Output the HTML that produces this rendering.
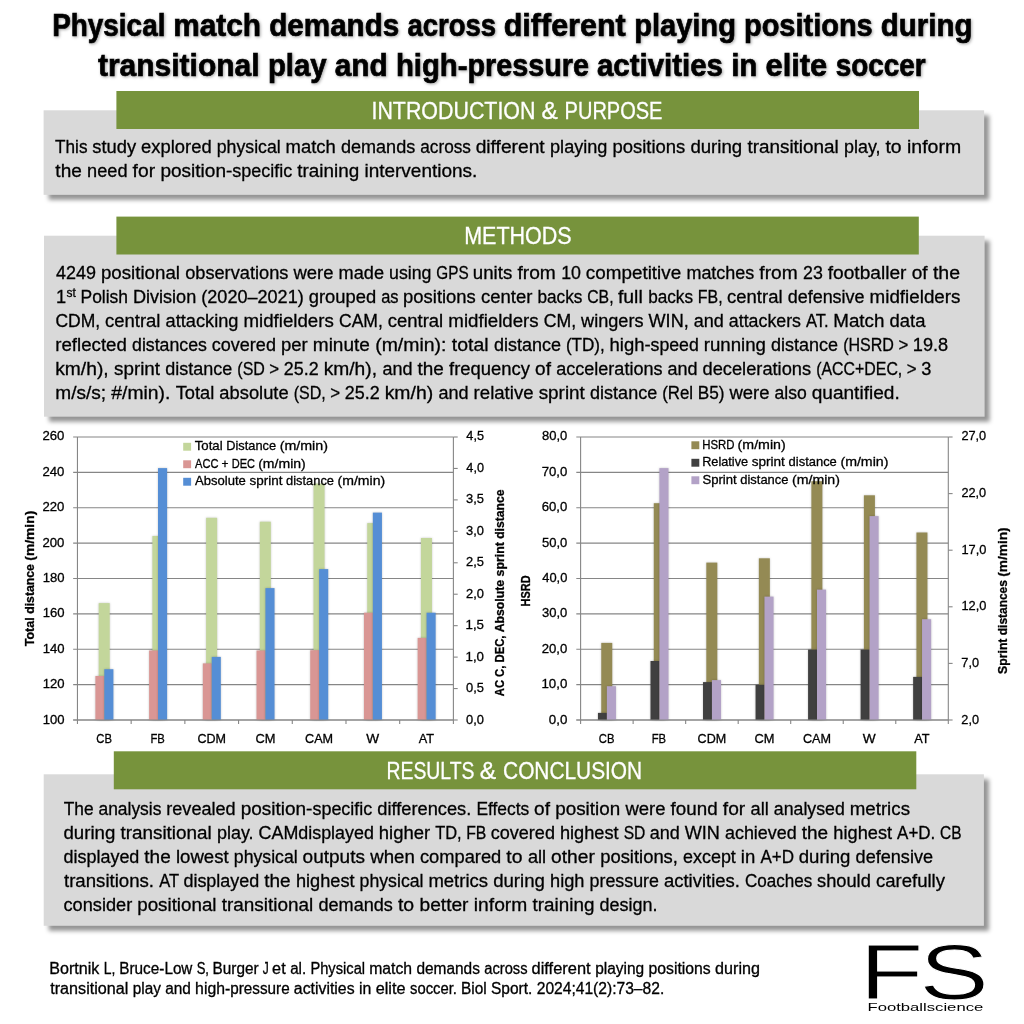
<!DOCTYPE html>
<html lang="en">
<head>
<meta charset="utf-8">
<title>Physical match demands across different playing positions</title>
<style>
html,body{margin:0;padding:0;background:#fff}
#page{position:relative;width:1024px;height:1024px;background:#fff;overflow:hidden;font-family:'Liberation Sans', sans-serif}
.gray{fill:#d9d9d9;filter:drop-shadow(5.6px 5.6px 2.3px rgba(0,0,0,.42))}
.green{fill:#77933c}
svg{position:absolute;left:0;top:0}
svg text{font-family:'Liberation Sans', sans-serif;white-space:pre;stroke:#000;stroke-width:.3px}
.bar{filter:drop-shadow(0 0 1px rgba(0,0,0,.22))}
.ttl{stroke-width:.7px;filter:drop-shadow(1px 1.5px 1.5px rgba(0,0,0,.35))}
</style>
</head>
<body>
<div id="page">
<svg width="1024" height="1024" viewBox="0 0 1024 1024">
<rect class="gray" x="43.6" y="110.3" width="940.55" height="84.55"/>
<rect class="green" x="116.4" y="91" width="802.60" height="38.00"/>
<rect class="gray" x="44.0" y="235.7" width="940.60" height="181.00"/>
<rect class="green" x="116.4" y="216.6" width="802.40" height="37.90"/>
<rect class="gray" x="43.7" y="774.3" width="940.20" height="151.50"/>
<rect class="green" x="113.8" y="751.3" width="802.50" height="38.00"/>
<text y="35.70" font-size="31.6" font-weight="bold" class="ttl"><tspan x="52.19" textLength="120.98" lengthAdjust="spacingAndGlyphs">Physical </tspan><tspan x="173.17" textLength="96.10" lengthAdjust="spacingAndGlyphs">match </tspan><tspan x="269.27" textLength="138.23" lengthAdjust="spacingAndGlyphs">demands </tspan><tspan x="407.50" textLength="96.25" lengthAdjust="spacingAndGlyphs">across </tspan><tspan x="503.75" textLength="130.40" lengthAdjust="spacingAndGlyphs">different </tspan><tspan x="634.15" textLength="109.82" lengthAdjust="spacingAndGlyphs">playing </tspan><tspan x="743.97" textLength="136.79" lengthAdjust="spacingAndGlyphs">positions </tspan><tspan x="880.76" textLength="91.75" lengthAdjust="spacingAndGlyphs">during</tspan></text>
<text y="76.00" font-size="31.6" font-weight="bold" class="ttl"><tspan x="97.95" textLength="169.97" lengthAdjust="spacingAndGlyphs">transitional </tspan><tspan x="267.92" textLength="66.81" lengthAdjust="spacingAndGlyphs">play </tspan><tspan x="334.73" textLength="61.19" lengthAdjust="spacingAndGlyphs">and </tspan><tspan x="395.92" textLength="71.64" lengthAdjust="spacingAndGlyphs">high-</tspan><tspan x="467.56" textLength="129.44" lengthAdjust="spacingAndGlyphs">pressure </tspan><tspan x="597.00" textLength="134.14" lengthAdjust="spacingAndGlyphs">activities </tspan><tspan x="731.14" textLength="34.41" lengthAdjust="spacingAndGlyphs">in </tspan><tspan x="765.55" textLength="70.26" lengthAdjust="spacingAndGlyphs">elite </tspan><tspan x="835.81" textLength="89.84" lengthAdjust="spacingAndGlyphs">soccer</tspan></text>
<text y="118.50" font-size="23" style="fill:#fff;stroke:#fff"><tspan x="371.48" textLength="169.93" lengthAdjust="spacingAndGlyphs">INTRODUCTION </tspan><tspan x="541.41" textLength="23.21" lengthAdjust="spacingAndGlyphs">&amp; </tspan><tspan x="564.62" textLength="97.84" lengthAdjust="spacingAndGlyphs">PURPOSE</tspan></text>
<text x="464.20" y="244.00" font-size="23" style="fill:#fff;stroke:#fff" textLength="107.47" lengthAdjust="spacingAndGlyphs">METHODS</text>
<text y="778.80" font-size="23" style="fill:#fff;stroke:#fff"><tspan x="386.53" textLength="93.27" lengthAdjust="spacingAndGlyphs">RESULTS </tspan><tspan x="479.80" textLength="23.29" lengthAdjust="spacingAndGlyphs">&amp; </tspan><tspan x="503.08" textLength="139.09" lengthAdjust="spacingAndGlyphs">CONCLUSION</tspan></text>
<text y="153.10" font-size="18.3"><tspan x="55.10" textLength="37.17" lengthAdjust="spacingAndGlyphs">This </tspan><tspan x="92.27" textLength="48.87" lengthAdjust="spacingAndGlyphs">study </tspan><tspan x="141.14" textLength="75.62" lengthAdjust="spacingAndGlyphs">explored </tspan><tspan x="216.76" textLength="68.88" lengthAdjust="spacingAndGlyphs">physical </tspan><tspan x="285.64" textLength="55.29" lengthAdjust="spacingAndGlyphs">match </tspan><tspan x="340.93" textLength="79.35" lengthAdjust="spacingAndGlyphs">demands </tspan><tspan x="420.28" textLength="55.38" lengthAdjust="spacingAndGlyphs">across </tspan><tspan x="475.66" textLength="74.40" lengthAdjust="spacingAndGlyphs">different </tspan><tspan x="550.05" textLength="62.37" lengthAdjust="spacingAndGlyphs">playing </tspan><tspan x="612.42" textLength="77.98" lengthAdjust="spacingAndGlyphs">positions </tspan><tspan x="690.40" textLength="57.00" lengthAdjust="spacingAndGlyphs">during </tspan><tspan x="747.40" textLength="96.61" lengthAdjust="spacingAndGlyphs">transitional </tspan><tspan x="844.02" textLength="41.43" lengthAdjust="spacingAndGlyphs">play, </tspan><tspan x="885.45" textLength="21.56" lengthAdjust="spacingAndGlyphs">to </tspan><tspan x="907.01" textLength="54.14" lengthAdjust="spacingAndGlyphs">inform</tspan></text>
<text y="177.25" font-size="18.3"><tspan x="55.35" textLength="31.74" lengthAdjust="spacingAndGlyphs">the </tspan><tspan x="87.09" textLength="45.53" lengthAdjust="spacingAndGlyphs">need </tspan><tspan x="132.62" textLength="27.78" lengthAdjust="spacingAndGlyphs">for </tspan><tspan x="160.40" textLength="71.93" lengthAdjust="spacingAndGlyphs">position-</tspan><tspan x="232.33" textLength="65.02" lengthAdjust="spacingAndGlyphs">specific </tspan><tspan x="297.35" textLength="67.10" lengthAdjust="spacingAndGlyphs">training </tspan><tspan x="364.45" textLength="112.91" lengthAdjust="spacingAndGlyphs">interventions.</tspan></text>
<text y="278.60" font-size="18.3"><tspan x="56.00" textLength="44.97" lengthAdjust="spacingAndGlyphs">4249 </tspan><tspan x="100.97" textLength="84.17" lengthAdjust="spacingAndGlyphs">positional </tspan><tspan x="185.14" textLength="108.32" lengthAdjust="spacingAndGlyphs">observations </tspan><tspan x="293.46" textLength="45.15" lengthAdjust="spacingAndGlyphs">were </tspan><tspan x="338.61" textLength="50.43" lengthAdjust="spacingAndGlyphs">made </tspan><tspan x="389.04" textLength="47.26" lengthAdjust="spacingAndGlyphs">using </tspan><tspan x="436.30" textLength="36.58" lengthAdjust="spacingAndGlyphs">GPS </tspan><tspan x="472.88" textLength="44.55" lengthAdjust="spacingAndGlyphs">units </tspan><tspan x="517.43" textLength="43.70" lengthAdjust="spacingAndGlyphs">from </tspan><tspan x="561.13" textLength="24.74" lengthAdjust="spacingAndGlyphs">10 </tspan><tspan x="585.87" textLength="100.54" lengthAdjust="spacingAndGlyphs">competitive </tspan><tspan x="686.41" textLength="72.92" lengthAdjust="spacingAndGlyphs">matches </tspan><tspan x="759.33" textLength="43.70" lengthAdjust="spacingAndGlyphs">from </tspan><tspan x="803.03" textLength="24.74" lengthAdjust="spacingAndGlyphs">23 </tspan><tspan x="827.77" textLength="84.00" lengthAdjust="spacingAndGlyphs">footballer </tspan><tspan x="911.78" textLength="21.13" lengthAdjust="spacingAndGlyphs">of </tspan><tspan x="932.90" textLength="27.10" lengthAdjust="spacingAndGlyphs">the</tspan></text>
<text x="56.00" y="302.60" font-size="18.3" textLength="10.14" lengthAdjust="spacingAndGlyphs">1</text>
<text x="66.44" y="296.85" font-size="12.2" textLength="9.32" lengthAdjust="spacingAndGlyphs">st</text>
<text y="302.60" font-size="18.3"><tspan x="80.50" textLength="52.40" lengthAdjust="spacingAndGlyphs">Polish </tspan><tspan x="132.90" textLength="68.37" lengthAdjust="spacingAndGlyphs">Division </tspan><tspan x="201.27" textLength="107.49" lengthAdjust="spacingAndGlyphs">(2020–2021) </tspan><tspan x="308.76" textLength="72.46" lengthAdjust="spacingAndGlyphs">grouped </tspan><tspan x="381.22" textLength="21.88" lengthAdjust="spacingAndGlyphs">as </tspan><tspan x="403.10" textLength="77.85" lengthAdjust="spacingAndGlyphs">positions </tspan><tspan x="480.95" textLength="56.55" lengthAdjust="spacingAndGlyphs">center </tspan><tspan x="537.50" textLength="49.69" lengthAdjust="spacingAndGlyphs">backs </tspan><tspan x="587.19" textLength="30.72" lengthAdjust="spacingAndGlyphs">CB, </tspan><tspan x="617.91" textLength="30.25" lengthAdjust="spacingAndGlyphs">full </tspan><tspan x="648.16" textLength="49.69" lengthAdjust="spacingAndGlyphs">backs </tspan><tspan x="697.86" textLength="29.25" lengthAdjust="spacingAndGlyphs">FB, </tspan><tspan x="727.10" textLength="60.56" lengthAdjust="spacingAndGlyphs">central </tspan><tspan x="787.67" textLength="81.91" lengthAdjust="spacingAndGlyphs">defensive </tspan><tspan x="869.57" textLength="90.93" lengthAdjust="spacingAndGlyphs">midfielders</tspan></text>
<text y="326.60" font-size="18.3"><tspan x="55.50" textLength="49.51" lengthAdjust="spacingAndGlyphs">CDM, </tspan><tspan x="105.01" textLength="60.60" lengthAdjust="spacingAndGlyphs">central </tspan><tspan x="165.61" textLength="77.89" lengthAdjust="spacingAndGlyphs">attacking </tspan><tspan x="243.49" textLength="95.50" lengthAdjust="spacingAndGlyphs">midfielders </tspan><tspan x="338.99" textLength="48.78" lengthAdjust="spacingAndGlyphs">CAM, </tspan><tspan x="387.77" textLength="60.60" lengthAdjust="spacingAndGlyphs">central </tspan><tspan x="448.37" textLength="95.50" lengthAdjust="spacingAndGlyphs">midfielders </tspan><tspan x="543.87" textLength="37.22" lengthAdjust="spacingAndGlyphs">CM, </tspan><tspan x="581.09" textLength="67.47" lengthAdjust="spacingAndGlyphs">wingers </tspan><tspan x="648.56" textLength="45.19" lengthAdjust="spacingAndGlyphs">WIN, </tspan><tspan x="693.75" textLength="35.07" lengthAdjust="spacingAndGlyphs">and </tspan><tspan x="728.82" textLength="77.14" lengthAdjust="spacingAndGlyphs">attackers </tspan><tspan x="805.95" textLength="27.30" lengthAdjust="spacingAndGlyphs">AT. </tspan><tspan x="833.26" textLength="56.36" lengthAdjust="spacingAndGlyphs">Match </tspan><tspan x="889.61" textLength="35.89" lengthAdjust="spacingAndGlyphs">data</tspan></text>
<text y="350.60" font-size="18.3"><tspan x="55.25" textLength="76.78" lengthAdjust="spacingAndGlyphs">reflected </tspan><tspan x="132.02" textLength="79.82" lengthAdjust="spacingAndGlyphs">distances </tspan><tspan x="211.84" textLength="69.08" lengthAdjust="spacingAndGlyphs">covered </tspan><tspan x="280.92" textLength="31.88" lengthAdjust="spacingAndGlyphs">per </tspan><tspan x="312.81" textLength="62.40" lengthAdjust="spacingAndGlyphs">minute </tspan><tspan x="375.21" textLength="76.61" lengthAdjust="spacingAndGlyphs">(m/min): </tspan><tspan x="451.82" textLength="42.11" lengthAdjust="spacingAndGlyphs">total </tspan><tspan x="493.93" textLength="72.01" lengthAdjust="spacingAndGlyphs">distance </tspan><tspan x="565.94" textLength="43.60" lengthAdjust="spacingAndGlyphs">(TD), </tspan><tspan x="609.54" textLength="41.05" lengthAdjust="spacingAndGlyphs">high-</tspan><tspan x="650.59" textLength="53.15" lengthAdjust="spacingAndGlyphs">speed </tspan><tspan x="703.74" textLength="67.38" lengthAdjust="spacingAndGlyphs">running </tspan><tspan x="771.12" textLength="72.01" lengthAdjust="spacingAndGlyphs">distance </tspan><tspan x="843.14" textLength="55.28" lengthAdjust="spacingAndGlyphs">(HSRD </tspan><tspan x="898.42" textLength="14.45" lengthAdjust="spacingAndGlyphs">&gt; </tspan><tspan x="912.87" textLength="35.38" lengthAdjust="spacingAndGlyphs">19.8</tspan></text>
<text y="374.60" font-size="18.3"><tspan x="55.25" textLength="58.75" lengthAdjust="spacingAndGlyphs">km/h), </tspan><tspan x="113.99" textLength="51.32" lengthAdjust="spacingAndGlyphs">sprint </tspan><tspan x="165.31" textLength="72.01" lengthAdjust="spacingAndGlyphs">distance </tspan><tspan x="237.32" textLength="32.01" lengthAdjust="spacingAndGlyphs">(SD </tspan><tspan x="269.33" textLength="14.45" lengthAdjust="spacingAndGlyphs">&gt; </tspan><tspan x="283.78" textLength="39.89" lengthAdjust="spacingAndGlyphs">25.2 </tspan><tspan x="323.67" textLength="58.75" lengthAdjust="spacingAndGlyphs">km/h), </tspan><tspan x="382.41" textLength="35.04" lengthAdjust="spacingAndGlyphs">and </tspan><tspan x="417.45" textLength="31.61" lengthAdjust="spacingAndGlyphs">the </tspan><tspan x="449.06" textLength="86.08" lengthAdjust="spacingAndGlyphs">frequency </tspan><tspan x="535.14" textLength="21.12" lengthAdjust="spacingAndGlyphs">of </tspan><tspan x="556.26" textLength="111.23" lengthAdjust="spacingAndGlyphs">accelerations </tspan><tspan x="667.50" textLength="35.04" lengthAdjust="spacingAndGlyphs">and </tspan><tspan x="702.54" textLength="113.65" lengthAdjust="spacingAndGlyphs">decelerations </tspan><tspan x="816.19" textLength="90.50" lengthAdjust="spacingAndGlyphs">(ACC+DEC, </tspan><tspan x="906.69" textLength="14.45" lengthAdjust="spacingAndGlyphs">&gt; </tspan><tspan x="921.14" textLength="10.11" lengthAdjust="spacingAndGlyphs">3</tspan></text>
<text y="398.60" font-size="18.3"><tspan x="55.25" textLength="56.15" lengthAdjust="spacingAndGlyphs">m/s/s; </tspan><tspan x="111.39" textLength="64.35" lengthAdjust="spacingAndGlyphs">#/min). </tspan><tspan x="175.74" textLength="43.63" lengthAdjust="spacingAndGlyphs">Total </tspan><tspan x="219.38" textLength="74.37" lengthAdjust="spacingAndGlyphs">absolute </tspan><tspan x="293.74" textLength="36.51" lengthAdjust="spacingAndGlyphs">(SD, </tspan><tspan x="330.25" textLength="14.47" lengthAdjust="spacingAndGlyphs">&gt; </tspan><tspan x="344.73" textLength="39.95" lengthAdjust="spacingAndGlyphs">25.2 </tspan><tspan x="384.68" textLength="53.85" lengthAdjust="spacingAndGlyphs">km/h) </tspan><tspan x="438.53" textLength="35.09" lengthAdjust="spacingAndGlyphs">and </tspan><tspan x="473.63" textLength="65.06" lengthAdjust="spacingAndGlyphs">relative </tspan><tspan x="538.68" textLength="51.40" lengthAdjust="spacingAndGlyphs">sprint </tspan><tspan x="590.08" textLength="72.12" lengthAdjust="spacingAndGlyphs">distance </tspan><tspan x="662.21" textLength="35.61" lengthAdjust="spacingAndGlyphs">(Rel </tspan><tspan x="697.82" textLength="31.58" lengthAdjust="spacingAndGlyphs">B5) </tspan><tspan x="729.40" textLength="45.22" lengthAdjust="spacingAndGlyphs">were </tspan><tspan x="774.62" textLength="37.04" lengthAdjust="spacingAndGlyphs">also </tspan><tspan x="811.66" textLength="88.10" lengthAdjust="spacingAndGlyphs">quantified.</tspan></text>
<text y="814.90" font-size="18.3"><tspan x="63.75" textLength="34.70" lengthAdjust="spacingAndGlyphs">The </tspan><tspan x="98.45" textLength="67.83" lengthAdjust="spacingAndGlyphs">analysis </tspan><tspan x="166.28" textLength="74.44" lengthAdjust="spacingAndGlyphs">revealed </tspan><tspan x="240.72" textLength="71.73" lengthAdjust="spacingAndGlyphs">position-</tspan><tspan x="312.45" textLength="64.84" lengthAdjust="spacingAndGlyphs">specific </tspan><tspan x="377.29" textLength="99.11" lengthAdjust="spacingAndGlyphs">differences. </tspan><tspan x="476.40" textLength="57.72" lengthAdjust="spacingAndGlyphs">Effects </tspan><tspan x="534.12" textLength="21.16" lengthAdjust="spacingAndGlyphs">of </tspan><tspan x="555.27" textLength="70.13" lengthAdjust="spacingAndGlyphs">position </tspan><tspan x="625.40" textLength="45.22" lengthAdjust="spacingAndGlyphs">were </tspan><tspan x="670.62" textLength="52.23" lengthAdjust="spacingAndGlyphs">found </tspan><tspan x="722.85" textLength="27.70" lengthAdjust="spacingAndGlyphs">for </tspan><tspan x="750.56" textLength="23.26" lengthAdjust="spacingAndGlyphs">all </tspan><tspan x="773.82" textLength="75.87" lengthAdjust="spacingAndGlyphs">analysed </tspan><tspan x="849.69" textLength="60.31" lengthAdjust="spacingAndGlyphs">metrics</tspan></text>
<text y="838.90" font-size="18.3"><tspan x="63.50" textLength="56.97" lengthAdjust="spacingAndGlyphs">during </tspan><tspan x="120.46" textLength="96.56" lengthAdjust="spacingAndGlyphs">transitional </tspan><tspan x="217.02" textLength="41.57" lengthAdjust="spacingAndGlyphs">play. </tspan><tspan x="258.59" textLength="120.23" lengthAdjust="spacingAndGlyphs">CAMdisplayed </tspan><tspan x="378.82" textLength="56.41" lengthAdjust="spacingAndGlyphs">higher </tspan><tspan x="435.23" textLength="30.99" lengthAdjust="spacingAndGlyphs">TD, </tspan><tspan x="466.23" textLength="24.57" lengthAdjust="spacingAndGlyphs">FB </tspan><tspan x="490.79" textLength="69.16" lengthAdjust="spacingAndGlyphs">covered </tspan><tspan x="559.95" textLength="63.73" lengthAdjust="spacingAndGlyphs">highest </tspan><tspan x="623.68" textLength="25.99" lengthAdjust="spacingAndGlyphs">SD </tspan><tspan x="649.67" textLength="35.08" lengthAdjust="spacingAndGlyphs">and </tspan><tspan x="684.75" textLength="40.22" lengthAdjust="spacingAndGlyphs">WIN </tspan><tspan x="724.98" textLength="76.73" lengthAdjust="spacingAndGlyphs">achieved </tspan><tspan x="801.71" textLength="31.65" lengthAdjust="spacingAndGlyphs">the </tspan><tspan x="833.36" textLength="63.73" lengthAdjust="spacingAndGlyphs">highest </tspan><tspan x="897.08" textLength="42.90" lengthAdjust="spacingAndGlyphs">A+D. </tspan><tspan x="939.98" textLength="21.52" lengthAdjust="spacingAndGlyphs">CB</tspan></text>
<text y="862.90" font-size="18.3"><tspan x="63.50" textLength="80.85" lengthAdjust="spacingAndGlyphs">displayed </tspan><tspan x="144.35" textLength="31.62" lengthAdjust="spacingAndGlyphs">the </tspan><tspan x="175.97" textLength="57.83" lengthAdjust="spacingAndGlyphs">lowest </tspan><tspan x="233.80" textLength="68.77" lengthAdjust="spacingAndGlyphs">physical </tspan><tspan x="302.57" textLength="67.68" lengthAdjust="spacingAndGlyphs">outputs </tspan><tspan x="370.25" textLength="49.69" lengthAdjust="spacingAndGlyphs">when </tspan><tspan x="419.93" textLength="86.42" lengthAdjust="spacingAndGlyphs">compared </tspan><tspan x="506.35" textLength="21.53" lengthAdjust="spacingAndGlyphs">to </tspan><tspan x="527.88" textLength="23.23" lengthAdjust="spacingAndGlyphs">all </tspan><tspan x="551.11" textLength="49.10" lengthAdjust="spacingAndGlyphs">other </tspan><tspan x="600.21" textLength="82.83" lengthAdjust="spacingAndGlyphs">positions, </tspan><tspan x="683.04" textLength="57.79" lengthAdjust="spacingAndGlyphs">except </tspan><tspan x="740.84" textLength="19.58" lengthAdjust="spacingAndGlyphs">in </tspan><tspan x="760.42" textLength="38.28" lengthAdjust="spacingAndGlyphs">A+D </tspan><tspan x="798.70" textLength="56.91" lengthAdjust="spacingAndGlyphs">during </tspan><tspan x="855.61" textLength="77.39" lengthAdjust="spacingAndGlyphs">defensive</tspan></text>
<text y="886.90" font-size="18.3"><tspan x="64.00" textLength="95.19" lengthAdjust="spacingAndGlyphs">transitions. </tspan><tspan x="159.19" textLength="24.24" lengthAdjust="spacingAndGlyphs">AT </tspan><tspan x="183.42" textLength="80.88" lengthAdjust="spacingAndGlyphs">displayed </tspan><tspan x="264.30" textLength="31.63" lengthAdjust="spacingAndGlyphs">the </tspan><tspan x="295.93" textLength="63.68" lengthAdjust="spacingAndGlyphs">highest </tspan><tspan x="359.61" textLength="68.79" lengthAdjust="spacingAndGlyphs">physical </tspan><tspan x="428.40" textLength="64.77" lengthAdjust="spacingAndGlyphs">metrics </tspan><tspan x="493.17" textLength="56.92" lengthAdjust="spacingAndGlyphs">during </tspan><tspan x="550.09" textLength="39.47" lengthAdjust="spacingAndGlyphs">high </tspan><tspan x="589.56" textLength="74.37" lengthAdjust="spacingAndGlyphs">pressure </tspan><tspan x="663.94" textLength="81.15" lengthAdjust="spacingAndGlyphs">activities. </tspan><tspan x="745.09" textLength="71.93" lengthAdjust="spacingAndGlyphs">Coaches </tspan><tspan x="817.02" textLength="58.90" lengthAdjust="spacingAndGlyphs">should </tspan><tspan x="875.92" textLength="69.08" lengthAdjust="spacingAndGlyphs">carefully</tspan></text>
<text y="910.90" font-size="18.3"><tspan x="63.50" textLength="73.78" lengthAdjust="spacingAndGlyphs">consider </tspan><tspan x="137.28" textLength="84.44" lengthAdjust="spacingAndGlyphs">positional </tspan><tspan x="221.72" textLength="96.75" lengthAdjust="spacingAndGlyphs">transitional </tspan><tspan x="318.46" textLength="79.45" lengthAdjust="spacingAndGlyphs">demands </tspan><tspan x="397.92" textLength="21.59" lengthAdjust="spacingAndGlyphs">to </tspan><tspan x="419.51" textLength="54.32" lengthAdjust="spacingAndGlyphs">better </tspan><tspan x="473.83" textLength="58.74" lengthAdjust="spacingAndGlyphs">inform </tspan><tspan x="532.57" textLength="67.04" lengthAdjust="spacingAndGlyphs">training </tspan><tspan x="599.61" textLength="57.90" lengthAdjust="spacingAndGlyphs">design.</tspan></text>
<text y="974.00" font-size="15.6"><tspan x="49.25" textLength="54.52" lengthAdjust="spacingAndGlyphs">Bortnik </tspan><tspan x="103.77" textLength="15.45" lengthAdjust="spacingAndGlyphs">L, </tspan><tspan x="119.22" textLength="45.19" lengthAdjust="spacingAndGlyphs">Bruce-</tspan><tspan x="164.42" textLength="32.21" lengthAdjust="spacingAndGlyphs">Low </tspan><tspan x="196.63" textLength="15.98" lengthAdjust="spacingAndGlyphs">S, </tspan><tspan x="212.61" textLength="50.23" lengthAdjust="spacingAndGlyphs">Burger </tspan><tspan x="262.83" textLength="9.31" lengthAdjust="spacingAndGlyphs">J </tspan><tspan x="272.14" textLength="18.00" lengthAdjust="spacingAndGlyphs">et </tspan><tspan x="290.14" textLength="20.29" lengthAdjust="spacingAndGlyphs">al. </tspan><tspan x="310.43" textLength="58.73" lengthAdjust="spacingAndGlyphs">Physical </tspan><tspan x="369.16" textLength="47.26" lengthAdjust="spacingAndGlyphs">match </tspan><tspan x="416.42" textLength="67.82" lengthAdjust="spacingAndGlyphs">demands </tspan><tspan x="484.24" textLength="47.34" lengthAdjust="spacingAndGlyphs">across </tspan><tspan x="531.58" textLength="63.59" lengthAdjust="spacingAndGlyphs">different </tspan><tspan x="595.17" textLength="53.31" lengthAdjust="spacingAndGlyphs">playing </tspan><tspan x="648.49" textLength="66.66" lengthAdjust="spacingAndGlyphs">positions </tspan><tspan x="715.14" textLength="44.86" lengthAdjust="spacingAndGlyphs">during</tspan></text>
<text y="994.00" font-size="15.6"><tspan x="50.25" textLength="82.54" lengthAdjust="spacingAndGlyphs">transitional </tspan><tspan x="132.79" textLength="32.35" lengthAdjust="spacingAndGlyphs">play </tspan><tspan x="165.14" textLength="29.99" lengthAdjust="spacingAndGlyphs">and </tspan><tspan x="195.13" textLength="35.14" lengthAdjust="spacingAndGlyphs">high-</tspan><tspan x="230.27" textLength="63.63" lengthAdjust="spacingAndGlyphs">pressure </tspan><tspan x="293.89" textLength="65.11" lengthAdjust="spacingAndGlyphs">activities </tspan><tspan x="359.00" textLength="16.75" lengthAdjust="spacingAndGlyphs">in </tspan><tspan x="375.76" textLength="34.24" lengthAdjust="spacingAndGlyphs">elite </tspan><tspan x="409.99" textLength="51.04" lengthAdjust="spacingAndGlyphs">soccer. </tspan><tspan x="461.03" textLength="30.00" lengthAdjust="spacingAndGlyphs">Biol </tspan><tspan x="491.03" textLength="45.68" lengthAdjust="spacingAndGlyphs">Sport. </tspan><tspan x="536.71" textLength="127.54" lengthAdjust="spacingAndGlyphs">2024;41(2):73–82.</tspan></text>
<text transform="scale(1.346,1)" x="638.58 682.99" y="999.1" font-size="77.6" style="stroke:#fff;stroke-width:1px">FS</text>
<text x="867.48" y="1010.50" font-size="11.3" textLength="115.79" lengthAdjust="spacingAndGlyphs" style="stroke:none">Footballscience</text>
<line x1="73.15" y1="437.00" x2="453.40" y2="437.00" stroke="#868686" stroke-width="1.1"/>
<line x1="73.15" y1="472.38" x2="453.40" y2="472.38" stroke="#868686" stroke-width="1.1"/>
<line x1="73.15" y1="507.75" x2="453.40" y2="507.75" stroke="#868686" stroke-width="1.1"/>
<line x1="73.15" y1="543.12" x2="453.40" y2="543.12" stroke="#868686" stroke-width="1.1"/>
<line x1="73.15" y1="578.50" x2="453.40" y2="578.50" stroke="#868686" stroke-width="1.1"/>
<line x1="73.15" y1="613.88" x2="453.40" y2="613.88" stroke="#868686" stroke-width="1.1"/>
<line x1="73.15" y1="649.25" x2="453.40" y2="649.25" stroke="#868686" stroke-width="1.1"/>
<line x1="73.15" y1="684.62" x2="453.40" y2="684.62" stroke="#868686" stroke-width="1.1"/>
<line x1="73.15" y1="720.00" x2="453.40" y2="720.00" stroke="#868686" stroke-width="1.1"/>
<line x1="77.45" y1="437.00" x2="77.45" y2="724.00" stroke="#868686" stroke-width="1.1"/>
<line x1="453.40" y1="437.00" x2="453.40" y2="724.00" stroke="#868686" stroke-width="1.1"/>
<line x1="453.40" y1="437.00" x2="457.70" y2="437.00" stroke="#868686" stroke-width="1.1"/>
<line x1="453.40" y1="468.44" x2="457.70" y2="468.44" stroke="#868686" stroke-width="1.1"/>
<line x1="453.40" y1="499.89" x2="457.70" y2="499.89" stroke="#868686" stroke-width="1.1"/>
<line x1="453.40" y1="531.33" x2="457.70" y2="531.33" stroke="#868686" stroke-width="1.1"/>
<line x1="453.40" y1="562.78" x2="457.70" y2="562.78" stroke="#868686" stroke-width="1.1"/>
<line x1="453.40" y1="594.22" x2="457.70" y2="594.22" stroke="#868686" stroke-width="1.1"/>
<line x1="453.40" y1="625.67" x2="457.70" y2="625.67" stroke="#868686" stroke-width="1.1"/>
<line x1="453.40" y1="657.11" x2="457.70" y2="657.11" stroke="#868686" stroke-width="1.1"/>
<line x1="453.40" y1="688.56" x2="457.70" y2="688.56" stroke="#868686" stroke-width="1.1"/>
<line x1="453.40" y1="720.00" x2="457.70" y2="720.00" stroke="#868686" stroke-width="1.1"/>
<line x1="131.16" y1="720.00" x2="131.16" y2="724.00" stroke="#868686" stroke-width="1.1"/>
<line x1="184.86" y1="720.00" x2="184.86" y2="724.00" stroke="#868686" stroke-width="1.1"/>
<line x1="238.57" y1="720.00" x2="238.57" y2="724.00" stroke="#868686" stroke-width="1.1"/>
<line x1="292.28" y1="720.00" x2="292.28" y2="724.00" stroke="#868686" stroke-width="1.1"/>
<line x1="345.99" y1="720.00" x2="345.99" y2="724.00" stroke="#868686" stroke-width="1.1"/>
<line x1="399.69" y1="720.00" x2="399.69" y2="724.00" stroke="#868686" stroke-width="1.1"/>
<rect x="98.70" y="603.10" width="11" height="116.90" fill="#c3d69b" class="bar"/>
<rect x="95.40" y="676.00" width="8.9" height="44.00" fill="#d99694" class="bar"/>
<rect x="104.30" y="669.20" width="9.1" height="50.80" fill="#558ed5" class="bar"/>
<rect x="152.41" y="536.00" width="11" height="184.00" fill="#c3d69b" class="bar"/>
<rect x="149.11" y="650.50" width="8.9" height="69.50" fill="#d99694" class="bar"/>
<rect x="158.01" y="468.10" width="9.1" height="251.90" fill="#558ed5" class="bar"/>
<rect x="206.12" y="517.80" width="11" height="202.20" fill="#c3d69b" class="bar"/>
<rect x="202.82" y="663.40" width="8.9" height="56.60" fill="#d99694" class="bar"/>
<rect x="211.72" y="656.90" width="9.1" height="63.10" fill="#558ed5" class="bar"/>
<rect x="259.82" y="521.70" width="11" height="198.30" fill="#c3d69b" class="bar"/>
<rect x="256.53" y="650.50" width="8.9" height="69.50" fill="#d99694" class="bar"/>
<rect x="265.43" y="588.10" width="9.1" height="131.90" fill="#558ed5" class="bar"/>
<rect x="313.53" y="483.60" width="11" height="236.40" fill="#c3d69b" class="bar"/>
<rect x="310.23" y="650.20" width="8.9" height="69.80" fill="#d99694" class="bar"/>
<rect x="319.13" y="569.10" width="9.1" height="150.90" fill="#558ed5" class="bar"/>
<rect x="367.24" y="523.10" width="11" height="196.90" fill="#c3d69b" class="bar"/>
<rect x="363.94" y="612.70" width="8.9" height="107.30" fill="#d99694" class="bar"/>
<rect x="372.84" y="512.60" width="9.1" height="207.40" fill="#558ed5" class="bar"/>
<rect x="420.95" y="538.00" width="11" height="182.00" fill="#c3d69b" class="bar"/>
<rect x="417.65" y="637.90" width="8.9" height="82.10" fill="#d99694" class="bar"/>
<rect x="426.55" y="612.70" width="9.1" height="107.30" fill="#558ed5" class="bar"/>
<line x1="73.15" y1="720.00" x2="453.40" y2="720.00" stroke="#868686" stroke-width="1.1"/>
<text x="42.40" y="440.30" font-size="13.1" textLength="21.97" lengthAdjust="spacingAndGlyphs">260</text>
<text x="42.40" y="475.74" font-size="13.1" textLength="21.97" lengthAdjust="spacingAndGlyphs">240</text>
<text x="42.40" y="511.18" font-size="13.1" textLength="21.97" lengthAdjust="spacingAndGlyphs">220</text>
<text x="42.40" y="546.61" font-size="13.1" textLength="21.97" lengthAdjust="spacingAndGlyphs">200</text>
<text x="42.71" y="582.05" font-size="13.1" textLength="21.84" lengthAdjust="spacingAndGlyphs">180</text>
<text x="42.71" y="617.49" font-size="13.1" textLength="21.84" lengthAdjust="spacingAndGlyphs">160</text>
<text x="42.71" y="652.92" font-size="13.1" textLength="21.84" lengthAdjust="spacingAndGlyphs">140</text>
<text x="42.71" y="688.36" font-size="13.1" textLength="21.84" lengthAdjust="spacingAndGlyphs">120</text>
<text x="42.71" y="723.80" font-size="13.1" textLength="21.84" lengthAdjust="spacingAndGlyphs">100</text>
<text x="466.34" y="440.30" font-size="13.1" textLength="17.64" lengthAdjust="spacingAndGlyphs">4,5</text>
<text x="466.34" y="471.80" font-size="13.1" textLength="17.64" lengthAdjust="spacingAndGlyphs">4,0</text>
<text x="466.07" y="503.30" font-size="13.1" textLength="17.92" lengthAdjust="spacingAndGlyphs">3,5</text>
<text x="466.07" y="534.80" font-size="13.1" textLength="17.92" lengthAdjust="spacingAndGlyphs">3,0</text>
<text x="466.07" y="566.30" font-size="13.1" textLength="17.92" lengthAdjust="spacingAndGlyphs">2,5</text>
<text x="466.07" y="597.80" font-size="13.1" textLength="17.92" lengthAdjust="spacingAndGlyphs">2,0</text>
<text x="465.50" y="629.30" font-size="13.1" textLength="18.51" lengthAdjust="spacingAndGlyphs">1,5</text>
<text x="465.50" y="660.80" font-size="13.1" textLength="18.51" lengthAdjust="spacingAndGlyphs">1,0</text>
<text x="466.07" y="692.30" font-size="13.1" textLength="17.92" lengthAdjust="spacingAndGlyphs">0,5</text>
<text x="466.07" y="723.80" font-size="13.1" textLength="17.92" lengthAdjust="spacingAndGlyphs">0,0</text>
<text x="96.26" y="742.80" font-size="13.1" textLength="15.65" lengthAdjust="spacingAndGlyphs">CB</text>
<text x="150.38" y="742.80" font-size="13.1" textLength="14.38" lengthAdjust="spacingAndGlyphs">FB</text>
<text x="197.39" y="742.80" font-size="13.1" textLength="28.59" lengthAdjust="spacingAndGlyphs">CDM</text>
<text x="255.43" y="742.80" font-size="13.1" textLength="19.99" lengthAdjust="spacingAndGlyphs">CM</text>
<text x="305.05" y="742.80" font-size="13.1" textLength="28.09" lengthAdjust="spacingAndGlyphs">CAM</text>
<text x="366.19" y="742.80" font-size="13.1" textLength="12.90" lengthAdjust="spacingAndGlyphs">W</text>
<text x="418.80" y="742.80" font-size="13.1" textLength="15.31" lengthAdjust="spacingAndGlyphs">AT</text>
<rect x="183.2" y="442.80" width="7.9" height="7.9" fill="#c3d69b"/>
<text y="450.40" font-size="13.1"><tspan x="194.75" textLength="31.52" lengthAdjust="spacingAndGlyphs">Total </tspan><tspan x="226.27" textLength="53.39" lengthAdjust="spacingAndGlyphs">Distance </tspan><tspan x="279.66" textLength="48.30" lengthAdjust="spacingAndGlyphs">(m/min)</tspan></text>
<rect x="183.2" y="460.30" width="7.9" height="7.9" fill="#d99694"/>
<text y="467.90" font-size="13.1"><tspan x="195.00" textLength="26.52" lengthAdjust="spacingAndGlyphs">ACC </tspan><tspan x="221.52" textLength="10.30" lengthAdjust="spacingAndGlyphs">+ </tspan><tspan x="231.82" textLength="26.34" lengthAdjust="spacingAndGlyphs">DEC </tspan><tspan x="258.16" textLength="47.60" lengthAdjust="spacingAndGlyphs">(m/min)</tspan></text>
<rect x="183.2" y="477.80" width="7.9" height="7.9" fill="#558ed5"/>
<text y="485.40" font-size="13.1"><tspan x="195.00" textLength="54.46" lengthAdjust="spacingAndGlyphs">Absolute </tspan><tspan x="249.46" textLength="36.66" lengthAdjust="spacingAndGlyphs">sprint </tspan><tspan x="286.12" textLength="51.44" lengthAdjust="spacingAndGlyphs">distance </tspan><tspan x="337.56" textLength="47.69" lengthAdjust="spacingAndGlyphs">(m/min)</tspan></text>
<text transform="translate(34.30,646.25) rotate(-90)" font-size="13.1" font-weight="bold"><tspan x="0.00" textLength="32.43" lengthAdjust="spacingAndGlyphs">Total </tspan><tspan x="32.43" textLength="53.15" lengthAdjust="spacingAndGlyphs">distance </tspan><tspan x="85.58" textLength="49.93" lengthAdjust="spacingAndGlyphs">(m/min)</tspan></text>
<text transform="translate(503.90,696.15) rotate(-90)" font-size="13.1" font-weight="bold"><tspan x="0.00" textLength="19.25" lengthAdjust="spacingAndGlyphs">AC </tspan><tspan x="19.25" textLength="14.41" lengthAdjust="spacingAndGlyphs">C, </tspan><tspan x="33.66" textLength="30.15" lengthAdjust="spacingAndGlyphs">DEC, </tspan><tspan x="63.81" textLength="55.93" lengthAdjust="spacingAndGlyphs">Absolute </tspan><tspan x="119.74" textLength="37.62" lengthAdjust="spacingAndGlyphs">sprint </tspan><tspan x="157.35" textLength="49.35" lengthAdjust="spacingAndGlyphs">distance</tspan></text>
<line x1="576.30" y1="437.00" x2="948.30" y2="437.00" stroke="#868686" stroke-width="1.1"/>
<line x1="576.30" y1="472.38" x2="948.30" y2="472.38" stroke="#868686" stroke-width="1.1"/>
<line x1="576.30" y1="507.75" x2="948.30" y2="507.75" stroke="#868686" stroke-width="1.1"/>
<line x1="576.30" y1="543.12" x2="948.30" y2="543.12" stroke="#868686" stroke-width="1.1"/>
<line x1="576.30" y1="578.50" x2="948.30" y2="578.50" stroke="#868686" stroke-width="1.1"/>
<line x1="576.30" y1="613.88" x2="948.30" y2="613.88" stroke="#868686" stroke-width="1.1"/>
<line x1="576.30" y1="649.25" x2="948.30" y2="649.25" stroke="#868686" stroke-width="1.1"/>
<line x1="576.30" y1="684.62" x2="948.30" y2="684.62" stroke="#868686" stroke-width="1.1"/>
<line x1="576.30" y1="720.00" x2="948.30" y2="720.00" stroke="#868686" stroke-width="1.1"/>
<line x1="580.60" y1="437.00" x2="580.60" y2="724.00" stroke="#868686" stroke-width="1.1"/>
<line x1="948.30" y1="437.00" x2="948.30" y2="724.00" stroke="#868686" stroke-width="1.1"/>
<line x1="948.30" y1="437.00" x2="952.60" y2="437.00" stroke="#868686" stroke-width="1.1"/>
<line x1="948.30" y1="493.60" x2="952.60" y2="493.60" stroke="#868686" stroke-width="1.1"/>
<line x1="948.30" y1="550.20" x2="952.60" y2="550.20" stroke="#868686" stroke-width="1.1"/>
<line x1="948.30" y1="606.80" x2="952.60" y2="606.80" stroke="#868686" stroke-width="1.1"/>
<line x1="948.30" y1="663.40" x2="952.60" y2="663.40" stroke="#868686" stroke-width="1.1"/>
<line x1="948.30" y1="720.00" x2="952.60" y2="720.00" stroke="#868686" stroke-width="1.1"/>
<line x1="633.13" y1="720.00" x2="633.13" y2="724.00" stroke="#868686" stroke-width="1.1"/>
<line x1="685.66" y1="720.00" x2="685.66" y2="724.00" stroke="#868686" stroke-width="1.1"/>
<line x1="738.19" y1="720.00" x2="738.19" y2="724.00" stroke="#868686" stroke-width="1.1"/>
<line x1="790.71" y1="720.00" x2="790.71" y2="724.00" stroke="#868686" stroke-width="1.1"/>
<line x1="843.24" y1="720.00" x2="843.24" y2="724.00" stroke="#868686" stroke-width="1.1"/>
<line x1="895.77" y1="720.00" x2="895.77" y2="724.00" stroke="#868686" stroke-width="1.1"/>
<rect x="601.26" y="642.90" width="11" height="77.10" fill="#948a54" class="bar"/>
<rect x="597.96" y="712.90" width="8.9" height="7.10" fill="#404040" class="bar"/>
<rect x="606.86" y="686.20" width="9.1" height="33.80" fill="#b3a2c7" class="bar"/>
<rect x="653.79" y="503.20" width="11" height="216.80" fill="#948a54" class="bar"/>
<rect x="650.49" y="661.00" width="8.9" height="59.00" fill="#404040" class="bar"/>
<rect x="659.39" y="468.10" width="9.1" height="251.90" fill="#b3a2c7" class="bar"/>
<rect x="706.32" y="562.60" width="11" height="157.40" fill="#948a54" class="bar"/>
<rect x="703.02" y="682.10" width="8.9" height="37.90" fill="#404040" class="bar"/>
<rect x="711.92" y="680.10" width="9.1" height="39.90" fill="#b3a2c7" class="bar"/>
<rect x="758.85" y="558.30" width="11" height="161.70" fill="#948a54" class="bar"/>
<rect x="755.55" y="684.80" width="8.9" height="35.20" fill="#404040" class="bar"/>
<rect x="764.45" y="596.60" width="9.1" height="123.40" fill="#b3a2c7" class="bar"/>
<rect x="811.38" y="481.20" width="11" height="238.80" fill="#948a54" class="bar"/>
<rect x="808.08" y="649.60" width="8.9" height="70.40" fill="#404040" class="bar"/>
<rect x="816.98" y="589.60" width="9.1" height="130.40" fill="#b3a2c7" class="bar"/>
<rect x="863.91" y="495.30" width="11" height="224.70" fill="#948a54" class="bar"/>
<rect x="860.61" y="649.60" width="8.9" height="70.40" fill="#404040" class="bar"/>
<rect x="869.51" y="516.10" width="9.1" height="203.90" fill="#b3a2c7" class="bar"/>
<rect x="916.44" y="532.50" width="11" height="187.50" fill="#948a54" class="bar"/>
<rect x="913.14" y="676.90" width="8.9" height="43.10" fill="#404040" class="bar"/>
<rect x="922.04" y="619.20" width="9.1" height="100.80" fill="#b3a2c7" class="bar"/>
<line x1="576.30" y1="720.00" x2="948.30" y2="720.00" stroke="#868686" stroke-width="1.1"/>
<text x="541.98" y="440.30" font-size="13.1" textLength="25.33" lengthAdjust="spacingAndGlyphs">80,0</text>
<text x="541.71" y="475.74" font-size="13.1" textLength="25.61" lengthAdjust="spacingAndGlyphs">70,0</text>
<text x="541.71" y="511.18" font-size="13.1" textLength="25.61" lengthAdjust="spacingAndGlyphs">60,0</text>
<text x="541.98" y="546.61" font-size="13.1" textLength="25.33" lengthAdjust="spacingAndGlyphs">50,0</text>
<text x="542.24" y="582.05" font-size="13.1" textLength="25.07" lengthAdjust="spacingAndGlyphs">40,0</text>
<text x="541.98" y="617.49" font-size="13.1" textLength="25.33" lengthAdjust="spacingAndGlyphs">30,0</text>
<text x="541.71" y="652.92" font-size="13.1" textLength="25.61" lengthAdjust="spacingAndGlyphs">20,0</text>
<text x="541.44" y="688.36" font-size="13.1" textLength="25.89" lengthAdjust="spacingAndGlyphs">10,0</text>
<text x="548.87" y="723.80" font-size="13.1" textLength="18.56" lengthAdjust="spacingAndGlyphs">0,0</text>
<text x="961.38" y="440.30" font-size="13.1" textLength="24.84" lengthAdjust="spacingAndGlyphs">27,0</text>
<text x="961.38" y="497.00" font-size="13.1" textLength="24.84" lengthAdjust="spacingAndGlyphs">22,0</text>
<text x="961.43" y="553.70" font-size="13.1" textLength="24.96" lengthAdjust="spacingAndGlyphs">17,0</text>
<text x="961.43" y="610.40" font-size="13.1" textLength="24.96" lengthAdjust="spacingAndGlyphs">12,0</text>
<text x="961.37" y="667.10" font-size="13.1" textLength="17.71" lengthAdjust="spacingAndGlyphs">7,0</text>
<text x="961.37" y="723.80" font-size="13.1" textLength="17.71" lengthAdjust="spacingAndGlyphs">2,0</text>
<text x="598.82" y="742.80" font-size="13.1" textLength="15.65" lengthAdjust="spacingAndGlyphs">CB</text>
<text x="651.76" y="742.80" font-size="13.1" textLength="14.38" lengthAdjust="spacingAndGlyphs">FB</text>
<text x="697.59" y="742.80" font-size="13.1" textLength="28.59" lengthAdjust="spacingAndGlyphs">CDM</text>
<text x="754.45" y="742.80" font-size="13.1" textLength="19.99" lengthAdjust="spacingAndGlyphs">CM</text>
<text x="802.90" y="742.80" font-size="13.1" textLength="28.09" lengthAdjust="spacingAndGlyphs">CAM</text>
<text x="862.86" y="742.80" font-size="13.1" textLength="12.90" lengthAdjust="spacingAndGlyphs">W</text>
<text x="914.29" y="742.80" font-size="13.1" textLength="15.31" lengthAdjust="spacingAndGlyphs">AT</text>
<rect x="691.4" y="441.30" width="7.9" height="7.9" fill="#948a54"/>
<text y="448.90" font-size="13.1"><tspan x="702.18" textLength="35.44" lengthAdjust="spacingAndGlyphs">HSRD </tspan><tspan x="737.61" textLength="48.06" lengthAdjust="spacingAndGlyphs">(m/min)</tspan></text>
<rect x="691.4" y="458.80" width="7.9" height="7.9" fill="#404040"/>
<text y="466.40" font-size="13.1"><tspan x="702.19" textLength="49.47" lengthAdjust="spacingAndGlyphs">Relative </tspan><tspan x="751.66" textLength="36.93" lengthAdjust="spacingAndGlyphs">sprint </tspan><tspan x="788.60" textLength="51.82" lengthAdjust="spacingAndGlyphs">distance </tspan><tspan x="840.42" textLength="48.04" lengthAdjust="spacingAndGlyphs">(m/min)</tspan></text>
<rect x="691.4" y="476.30" width="7.9" height="7.9" fill="#b3a2c7"/>
<text y="483.90" font-size="13.1"><tspan x="702.44" textLength="37.84" lengthAdjust="spacingAndGlyphs">Sprint </tspan><tspan x="740.29" textLength="51.72" lengthAdjust="spacingAndGlyphs">distance </tspan><tspan x="792.01" textLength="47.95" lengthAdjust="spacingAndGlyphs">(m/min)</tspan></text>
<text transform="translate(530.20,606.38) rotate(-90)" font-size="13.1" font-weight="bold" textLength="30.95" lengthAdjust="spacingAndGlyphs">HSRD</text>
<text transform="translate(1006.60,673.90) rotate(-90)" font-size="13.1" font-weight="bold"><tspan x="0.00" textLength="38.73" lengthAdjust="spacingAndGlyphs">Sprint </tspan><tspan x="38.73" textLength="58.36" lengthAdjust="spacingAndGlyphs">distances </tspan><tspan x="97.09" textLength="49.47" lengthAdjust="spacingAndGlyphs">(m/min)</tspan></text>
</svg>
</div>
</body>
</html>
